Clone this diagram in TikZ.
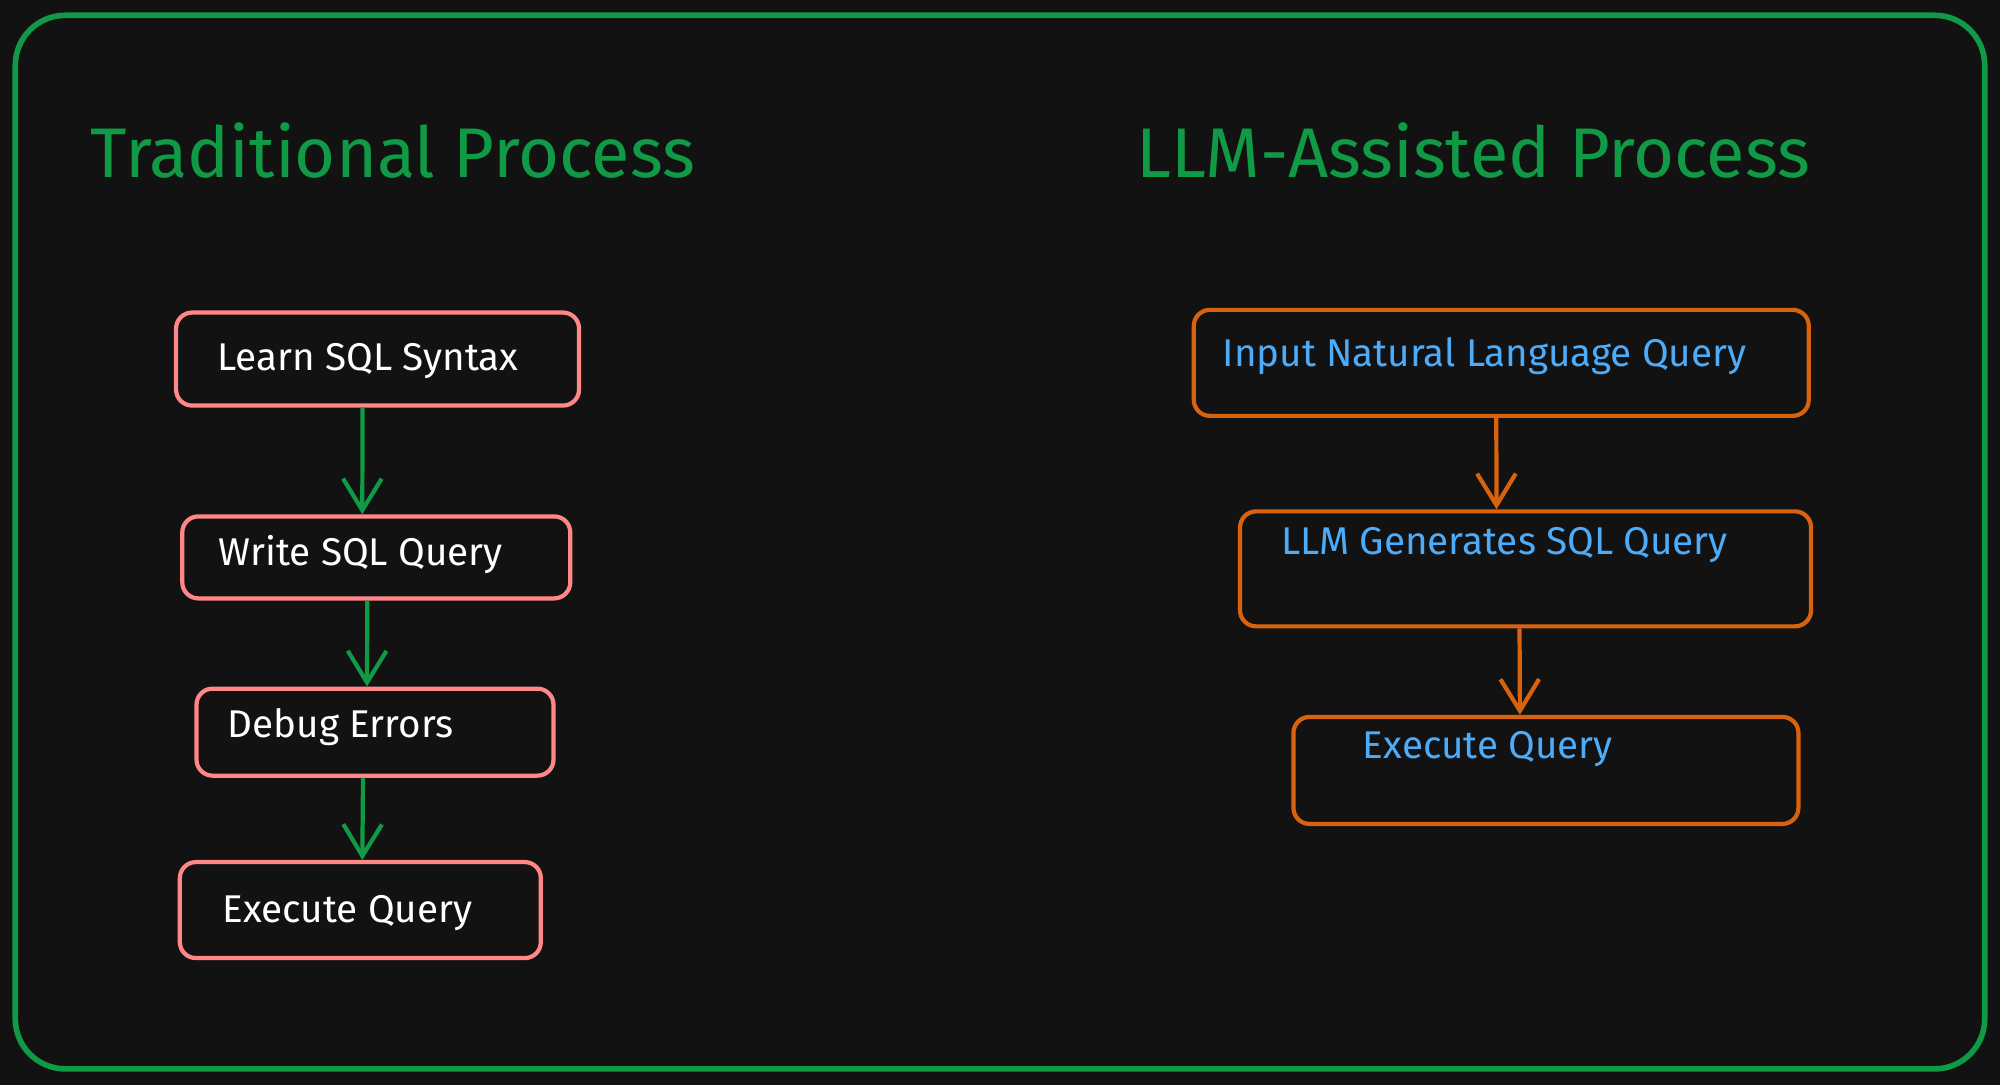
\documentclass[tikz,border=0pt]{standalone}
\usepackage{fontspec}
\setmainfont{Fira Sans}
\usetikzlibrary{arrows.meta}
\definecolor{bg}{HTML}{121212}
\definecolor{grn}{HTML}{119A45}
\definecolor{pinkb}{HTML}{FF8787}
\definecolor{orb}{HTML}{D9620F}
\definecolor{bluet}{HTML}{4DABF7}
\begin{document}
\begin{tikzpicture}[x=0.0127551cm,y=-0.0127551cm,
  lbox/.style={draw=pinkb,line width=1.2pt,rounded corners=0.16cm,inner sep=0pt},
  rbox/.style={draw=orb,line width=1.2pt,rounded corners=0.16cm,inner sep=0pt},
  ltxt/.style={anchor=west,inner sep=0pt,text=white,font=\fontsize{11}{13}\selectfont},
  rtxt/.style={anchor=west,inner sep=0pt,text=bluet,font=\fontsize{11}{13}\selectfont},
  title/.style={text=grn,font=\fontsize{20}{24}\selectfont},
  larr/.style={draw=grn,line width=1.2pt,-{Straight Barb[length=9pt,width=11pt]}},
  rarr/.style={draw=orb,line width=1.2pt,-{Straight Barb[length=9pt,width=11pt]}}]
\useasboundingbox (0,0) rectangle (1568,851);
\fill[bg] (0,0) rectangle (1568,851);
\draw[grn,line width=1.6pt,rounded corners=0.5cm] (12,12) rectangle (1556,838);
\node[title] (t1) at (308,118) {Traditional Process};
\node[title] (t2) at (1155,118) {LLM-Assisted Process};
% left
\node[lbox,minimum width=4.03cm,minimum height=0.93cm] (l1) at (296,281.5) {};
\node[lbox,minimum width=3.88cm,minimum height=0.82cm] (l2) at (295,437) {};
\node[lbox,minimum width=3.57cm,minimum height=0.87cm] (l3) at (294,574) {};
\node[lbox,minimum width=3.61cm,minimum height=0.96cm] (l4) at (282.5,713.5) {};
\node[ltxt] (lt1) at (170,283) {Learn SQL Syntax};
\node[ltxt] (lt2) at (171,435) {Write SQL Query};
\node[ltxt] (lt3) at (178,570) {Debug Errors};
\node[ltxt] (lt4) at (174,716) {Execute Query};
\draw[larr] ([xshift=-0.15cm]l1.south) -- ([xshift=-0.14cm]l2.north);
\draw[larr] ([xshift=-0.09cm]l2.south) -- ([xshift=-0.08cm]l3.north);
\draw[larr] ([xshift=-0.12cm]l3.south) -- ([xshift=0.02cm]l4.north);
% right
\node[rbox,minimum width=6.15cm,minimum height=1.06cm] (r1) at (1177,284.5) {};
\node[rbox,minimum width=5.71cm,minimum height=1.15cm] (r2) at (1196,446) {};
\node[rbox,minimum width=5.05cm,minimum height=1.07cm] (r3) at (1212,604) {};
\node[rtxt] (rt1) at (958,279) {Input Natural Language Query};
\node[rtxt] (rt2) at (1004,427) {LLM Generates SQL Query};
\node[rtxt] (rt3) at (1068,587) {Execute Query};
\draw[rarr] ([xshift=-0.05cm]r1.south) -- ([xshift=-0.29cm]r2.north);
\draw[rarr] ([xshift=-0.06cm]r2.south) -- ([xshift=-0.26cm]r3.north);
\end{tikzpicture}
\end{document}
